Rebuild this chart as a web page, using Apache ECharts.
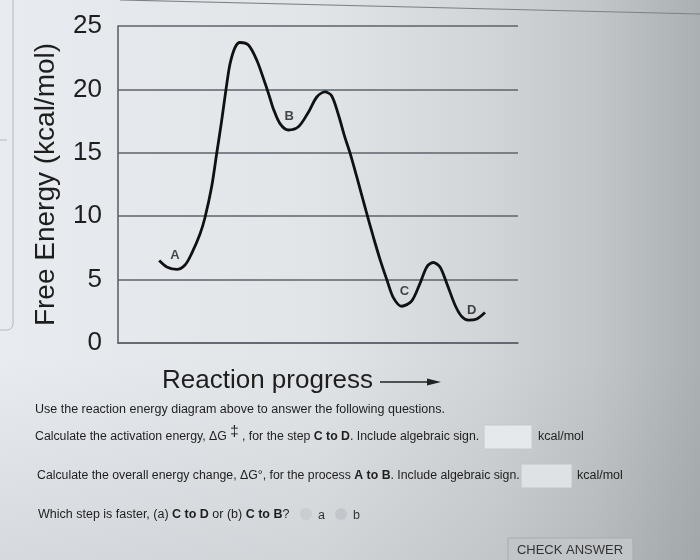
<!DOCTYPE html>
<html><head><meta charset="utf-8">
<script src="https://cdn.jsdelivr.net/npm/echarts@6/dist/echarts.min.js"></script>
<style>html,body{margin:0;padding:0;background:#e6e9ec}#c{width:700px;height:560px}</style>
</head><body><div id="c"></div>
<script>
// Reaction coordinate (arbitrary units 0-100) and free energy (kcal/mol)
const progress = [10.3, 12.2, 14.7, 16.75, 18.4, 20.5, 21.75, 23.4, 24.7, 25.9, 27, 28, 29.25, 30.5, 32.6, 34.7, 36.75, 38, 38.8, 40.5, 42.6, 45.1, 47.6, 49.7, 51.75, 53.4, 55.1, 56.75, 58, 59.7, 62.2, 63.8, 65.5, 67.2, 68.8, 70.9, 73.4, 75.5, 77.2, 78.8, 80.5, 82.2, 84.25, 85.9, 87.6, 89.7, 91.75];
const energy = [6.5, 6.0, 5.8, 6.15, 7.05, 8.6, 9.9, 12.3, 15, 17.5, 20, 22, 23.3, 23.7, 23.5, 22.3, 20.5, 19.3, 18.5, 17.3, 16.8, 17.05, 18.2, 19.4, 19.8, 19.5, 18.0, 16.2, 15.0, 13.1, 10.2, 8.4, 6.6, 5.0, 3.6, 2.9, 3.3, 4.7, 6.0, 6.35, 6.0, 4.7, 3.0, 2.1, 1.8, 1.9, 2.4];
// Point labels on the diagram
const pointNames = ['A', 'B', 'C', 'D'];
const pointX = [14.25, 42.8, 71.6, 88.4];
const pointY = [6.9, 17.9, 4.1, 2.6];
// y axis ticks
const yTicks = [0, 5, 10, 15, 20, 25];

const FONT = 'Liberation Sans, Arial, Helvetica, sans-serif';
const chart = echarts.init(document.getElementById('c'), null, {renderer: 'canvas'});

const curve = progress.map((x, i) => [x, energy[i]]);
const labels = pointNames.map((n, i) => ({name: n, value: [pointX[i], pointY[i]]}));

chart.setOption({
  animation: false,
  backgroundColor: 'transparent',
  grid: {left: 118, right: 182, top: 26, bottom: 217},
  xAxis: {
    type: 'value', min: 0, max: 100,
    axisLine: {show: true, onZero: false, lineStyle: {color: '#5d6369', width: 1.6}},
    axisTick: {show: false}, axisLabel: {show: false}, splitLine: {show: false}
  },
  yAxis: {
    type: 'value', min: yTicks[0], max: yTicks[yTicks.length - 1], interval: 5,
    name: 'Free Energy (kcal/mol)', nameLocation: 'middle', nameGap: 58,
    nameTextStyle: {fontFamily: FONT, fontSize: 28, color: '#1e1e1e'},
    axisLine: {show: true, lineStyle: {color: '#5d6369', width: 1.6}},
    axisTick: {show: false},
    axisLabel: {fontFamily: FONT, fontSize: 26, color: '#1e1e1e', margin: 16},
    splitLine: {show: true, lineStyle: {color: '#5d6369', width: 1.6}}
  },
  series: [
    {
      type: 'line', data: curve, smooth: 0.3, symbol: 'none',
      lineStyle: {color: '#111', width: 2.8}, z: 5
    },
    {
      type: 'scatter', data: labels, symbolSize: 0, z: 6,
      label: {show: true, position: 'inside', formatter: '{b}', fontFamily: FONT,
        fontSize: 13, fontWeight: 'bold', color: '#1a1a1a'}
    }
  ],
  graphic: [
    {type: 'rect', z: -100, silent: true, shape: {x: 0, y: 0, width: 700, height: 560},
      style: {fill: {type: 'linear', x: 0, y: 0, x2: 1, y2: 0, colorStops: [
        {offset: 0, color: '#e8ebef'}, {offset: 0.45, color: '#e2e5e8'},
        {offset: 0.7, color: '#d1d5d7'}, {offset: 0.85, color: '#c2c6c8'}, {offset: 1, color: '#abb0b2'}]}}},
    {type: 'rect', z: -99, silent: true, shape: {x: 0, y: 360, width: 700, height: 200},
      style: {fill: {type: 'linear', x: 0, y: 0, x2: 0, y2: 1, colorStops: [
        {offset: 0, color: 'rgba(110,115,120,0)'}, {offset: 1, color: 'rgba(110,115,120,0.15)'}]}}},
    {type: 'line', z: -50, shape: {x1: 120, y1: 0, x2: 700, y2: 14}, style: {stroke: '#7d8287', lineWidth: 1.2}},
    {type: 'rect', z: -50, shape: {x: -20, y: -10, width: 33, height: 340, r: 6}, style: {fill: 'none', stroke: '#b5b9bd', lineWidth: 1}},
    {type: 'line', z: -50, shape: {x1: 0, y1: 140, x2: 7, y2: 140}, style: {stroke: '#b5b9bd', lineWidth: 1}},
    // x-axis title with arrow
    {type: 'text', x: 162, y: 381, style: {text: 'Reaction progress', font: '26px ' + FONT, fill: '#1e1e1e', textVerticalAlign: 'middle'}},
    {type: 'line', shape: {x1: 380, y1: 382, x2: 430, y2: 382}, style: {stroke: '#222', lineWidth: 1.6}},
    {type: 'polygon', shape: {points: [[427, 378.5], [441, 382], [427, 385.5]]}, style: {fill: '#222'}},
    // questions
    {type: 'text', x: 35, y: 410, style: {text: 'Use the reaction energy diagram above to answer the following questions.', font: '12.5px ' + FONT, fill: '#1e1e1e', textVerticalAlign: 'middle'}},
    {type: 'text', x: 35, y: 437, style: {
      text: 'Calculate the activation energy, ΔG {s|‡} , for the step {b|C to D}. Include algebraic sign.',
      font: '12.3px ' + FONT, fill: '#1e1e1e', textVerticalAlign: 'middle',
      rich: {s: {fontSize: 15, fontFamily: FONT, padding: [0, 0, 10, 0]}, b: {fontWeight: 'bold', fontSize: 12.3, fontFamily: FONT}}}},
    {type: 'rect', shape: {x: 484, y: 425, width: 48, height: 24}, style: {fill: '#e6e9ec', stroke: '#c4c8cc', lineWidth: 1}},
    {type: 'text', x: 538, y: 437, style: {text: 'kcal/mol', font: '12.5px ' + FONT, fill: '#1e1e1e', textVerticalAlign: 'middle'}},
    {type: 'text', x: 37, y: 476, style: {
      text: 'Calculate the overall energy change, ΔG°, for the process {b|A to B}. Include algebraic sign.',
      font: '12.3px ' + FONT, fill: '#1e1e1e', textVerticalAlign: 'middle',
      rich: {b: {fontWeight: 'bold', fontSize: 12.3, fontFamily: FONT}}}},
    {type: 'rect', shape: {x: 521, y: 464, width: 51, height: 24}, style: {fill: '#dfe2e5', stroke: '#c0c4c8', lineWidth: 1}},
    {type: 'text', x: 577, y: 476, style: {text: 'kcal/mol', font: '12.5px ' + FONT, fill: '#1e1e1e', textVerticalAlign: 'middle'}},
    {type: 'text', x: 38, y: 515, style: {
      text: 'Which step is faster, (a) {b|C to D} or (b) {b|C to B}?',
      font: '12.5px ' + FONT, fill: '#1e1e1e', textVerticalAlign: 'middle',
      rich: {b: {fontWeight: 'bold', fontSize: 12.5, fontFamily: FONT}}}},
    {type: 'circle', shape: {cx: 306, cy: 514, r: 6}, style: {fill: '#c9cdd1'}},
    {type: 'text', x: 318, y: 516, style: {text: 'a', font: '12.5px ' + FONT, fill: '#333', textVerticalAlign: 'middle'}},
    {type: 'circle', shape: {cx: 341, cy: 514, r: 6}, style: {fill: '#c3c7cb'}},
    {type: 'text', x: 353, y: 516, style: {text: 'b', font: '12.5px ' + FONT, fill: '#333', textVerticalAlign: 'middle'}},
    {type: 'rect', shape: {x: 508, y: 538, width: 125, height: 26}, style: {fill: '#c2c5c8', stroke: '#a7abaf', lineWidth: 1}},
    {type: 'text', x: 570, y: 550, style: {text: 'CHECK ANSWER', font: '13px ' + FONT, fill: '#333', textAlign: 'center', textVerticalAlign: 'middle'}}
  ]
});
</script></body></html>
